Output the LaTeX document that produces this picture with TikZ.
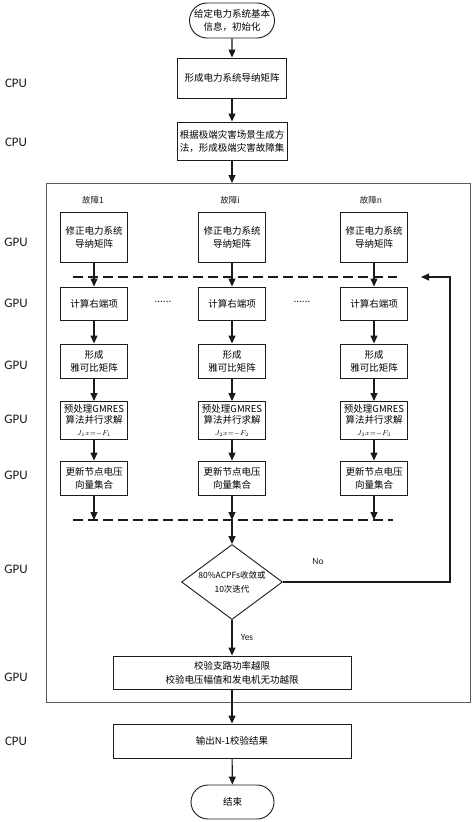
\documentclass[tikz,border=0pt]{standalone}
\usepackage{fontspec}
\setmainfont{Carlito}
\newfontfamily\cjk{Noto Sans CJK SC}
\usetikzlibrary{arrows.meta,shapes.geometric,shapes.misc}
\definecolor{ln}{HTML}{1A1A1A}
\definecolor{frame}{HTML}{5A5A5A}
\begin{document}
\begin{tikzpicture}[x=1pt,y=-1pt,
  box/.style={draw=ln, line width=0.9pt, rectangle, inner sep=0pt, align=center,
              font=\cjk\fontsize{9.5}{13}\selectfont},
  colbox/.style={box, minimum width=67pt},
  term/.style={box, rounded rectangle},
  arr/.style={draw=ln, line width=1.1pt, -{Triangle[width=7pt,length=8pt]}},
  sepline/.style={draw=ln, line width=1.4pt, dash pattern=on 10pt off 5pt},
  side/.style={font=\fontsize{13}{15}\selectfont, text=ln},
  hdr/.style={font=\cjk\fontsize{8.5}{10}\selectfont, text=ln},
  lbl/.style={font=\fontsize{9.5}{11}\selectfont, text=ln},
]
\useasboundingbox (0,0) rectangle (474,822);

% side labels
\node[side] (s1) at (16,83.5) {CPU};
\node[side] (s2) at (16,142) {CPU};
\node[side] (s3) at (16,242) {GPU};
\node[side] (s4) at (16,303) {GPU};
\node[side] (s5) at (16,365) {GPU};
\node[side] (s6) at (16,419) {GPU};
\node[side] (s7) at (16,475) {GPU};
\node[side] (s8) at (16,569) {GPU};
\node[side] (s9) at (16,677) {GPU};
\node[side] (s10) at (16,741) {CPU};

% frame
\draw[draw=frame, line width=1pt] (46,183) rectangle (470,702);

% top flow
\node[term, minimum width=85pt, minimum height=35pt, font=\cjk\fontsize{9.5}{12.5}\selectfont] (start) at (232,20.5) {给定电力系统基本\\信息，初始化};
\node[box, minimum width=109pt, minimum height=40pt] (b1) at (232,78) {形成电力系统导纳矩阵};
\node[box, minimum width=110pt, minimum height=38pt] (b2) at (232,141) {根据极端灾害场景生成方\\法，形成极端灾害故障集};
\coordinate (ftop) at (232,183);
\draw[arr] (start) -- (b1);
\draw[arr] (b1) -- (b2);
\draw[arr] (b2) -- (ftop);

% column headers
\node[hdr] (h1) at (93,200) {故障1};
\node[hdr] (h2) at (230,200) {故障i};
\node[hdr] (h3) at (371,200) {故障n};

% columns
\foreach \c/\x/\k in {a/94/1, b/232/2, c/374/3} {
  \node[colbox, minimum height=50pt] (\c1) at (\x,237) {修正电力系统\\导纳矩阵};
  \node[colbox, minimum height=33pt] (\c2) at (\x,303.5) {计算右端项};
  \node[colbox, minimum height=34pt] (\c3) at (\x,361) {形成\\雅可比矩阵};
  \node[colbox, minimum height=38pt, font=\cjk\fontsize{9.5}{11.5}\selectfont] (\c4) at (\x,420.5)
     {预处理GMRES\\算法并行求解\\{\fontsize{7}{8}\selectfont$J_{\k}x{=}{-}F_{\k}$}};
  \node[colbox, minimum height=34pt] (\c5) at (\x,478) {更新节点电压\\向量集合};
  \coordinate (\c d) at (\x,520);
  \draw[arr] (\c1) -- (\c2);
  \draw[arr] (\c2) -- (\c3);
  \draw[arr] (\c3) -- (\c4);
  \draw[arr] (\c4) -- (\c5);
  \draw[arr] (\c5) -- (\c d);
}

% dashed separators
\coordinate (dl1) at (73,277);
\coordinate (dr1) at (397,277);
\coordinate (dl2) at (73,520);
\coordinate (dr2) at (393,520);
\draw[sepline] (dl1) -- (dr1);
\draw[sepline] (dl2) -- (dr2);

% dots
\node[lbl, font=\fontsize{11}{12}\selectfont] (dots1) at (163,302) {......};
\node[lbl, font=\fontsize{11}{12}\selectfont] (dots2) at (302,302) {......};

% decision
\node[diamond, draw=ln, line width=0.9pt, shape aspect=1.35, inner sep=0pt,
      minimum width=101pt, minimum height=75pt, align=center,
      font=\cjk\fontsize{8.5}{14}\selectfont] (dec) at (232,582) {80\%ACPFs收敛或\\10次迭代};
\draw[arr] (bd) -- (dec);

% feedback (No)
\coordinate (fbR) at (450,582);
\coordinate (fbT) at (450,277);
\coordinate (fbE) at (421,277);
\draw[arr] (dec.east) -- (fbR) -- (fbT) -- (fbE);
\node[lbl] (no) at (318,561) {No};

% bottom flow
\node[box, minimum width=238pt, minimum height=33pt, font=\cjk\fontsize{9.5}{14}\selectfont] (chk) at (232,672.5) {校验支路功率越限\\校验电压幅值和发电机无功越限};
\node[box, minimum width=238pt, minimum height=34pt] (out) at (232,741) {输出N-1校验结果};
\node[term, minimum width=83pt, minimum height=34pt] (fin) at (232.5,802) {结束};
\draw[arr] (dec) -- (chk);
\node[lbl] (yes) at (247,637) {Yes};
\draw[arr] (chk) -- (out);
\draw[arr] (out) -- (fin);
\end{tikzpicture}
\end{document}
